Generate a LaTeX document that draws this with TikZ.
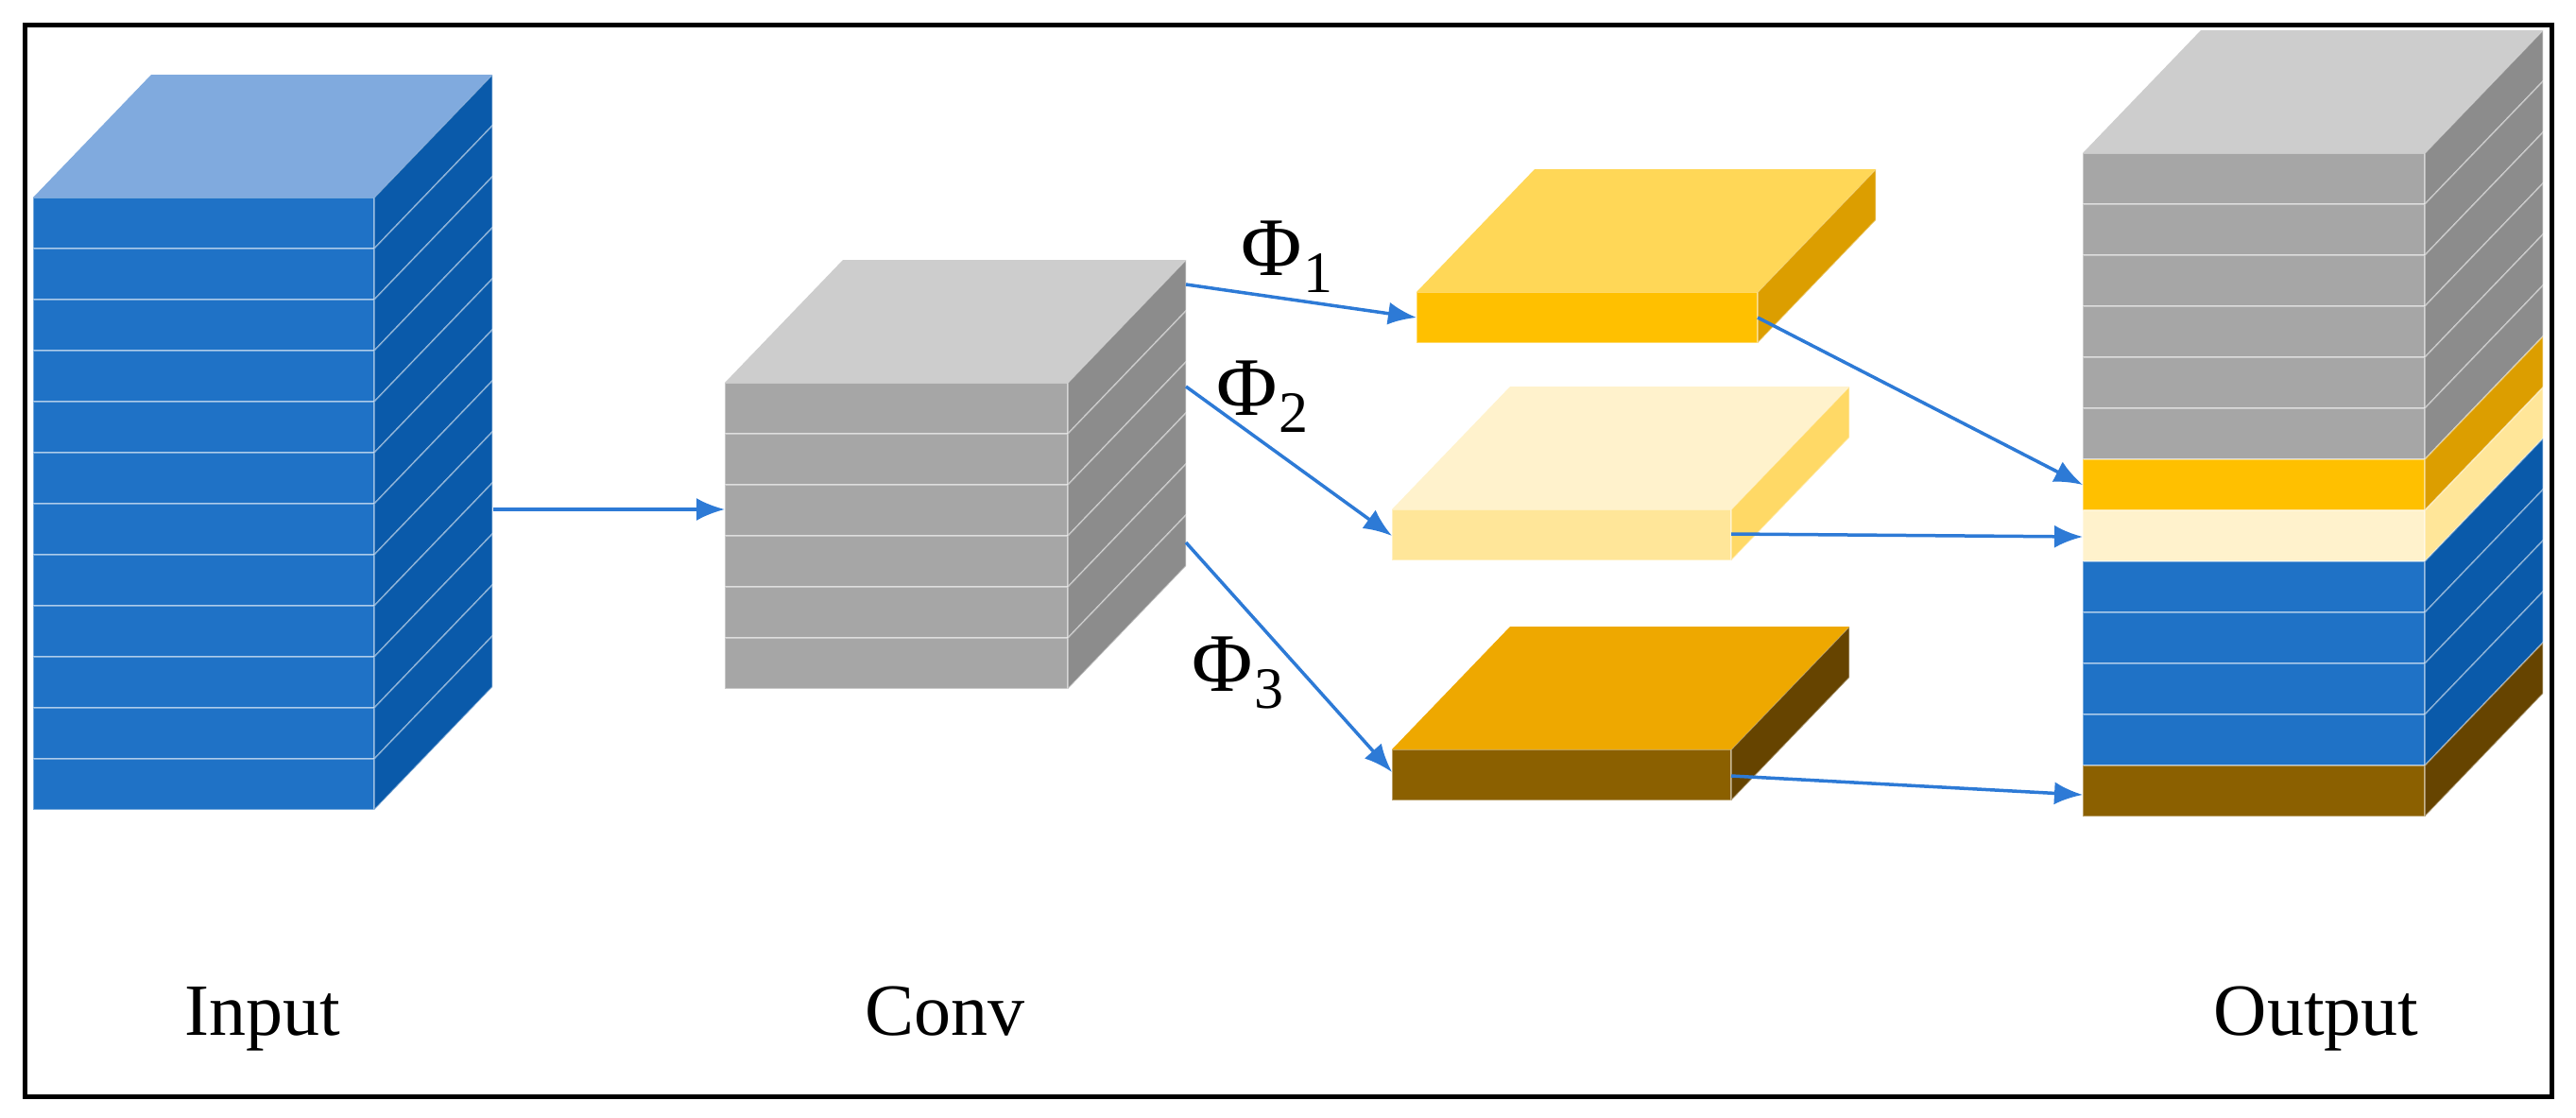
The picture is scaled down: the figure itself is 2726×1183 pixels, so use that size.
\documentclass[tikz,border=0pt]{standalone}
\usepackage{fontspec}
\setmainfont{Liberation Serif}
\usetikzlibrary{arrows.meta}
\definecolor{bF}{HTML}{1F72C6}\definecolor{bS}{HTML}{0A5AAA}\definecolor{bT}{HTML}{80AADE}
\definecolor{gF}{HTML}{A6A6A6}\definecolor{gS}{HTML}{8C8C8C}\definecolor{gT}{HTML}{CDCDCD}
\definecolor{yF}{HTML}{FFC000}\definecolor{yS}{HTML}{DC9E00}\definecolor{yT}{HTML}{FFD757}
\definecolor{lF}{HTML}{FFE699}\definecolor{lS}{HTML}{FFD966}\definecolor{lT}{HTML}{FFF2CC}
\definecolor{nF}{HTML}{8B6000}\definecolor{nS}{HTML}{664400}\definecolor{nT}{HTML}{EEA800}
\definecolor{arr}{HTML}{2D7AD6}
\newcommand\mystack[7]{%
 \foreach \i in {1,...,#5}{%
  \pgfmathsetmacro\yy{#2+(\i-1)*#4}
  \filldraw[fill=#6,sep] (#1,\yy) rectangle ++(#3,#4);
  \filldraw[fill=#7,sep] (#1+#3,\yy) -- ++(125,-130) -- ++(0,#4) -- ++(-125,130) -- cycle;}}
\newcommand\mytop[4]{\fill[#4] (#1,#2) -- ++(125,-130) -- ++(#3,0) -- ++(-125,130) -- cycle;}
\newcommand\phisub[1]{Φ\kern2pt\raisebox{-18pt}{\fontsize{62}{70}\selectfont #1}}
\begin{document}
\begin{tikzpicture}[x=1pt,y=-1pt,
 sep/.style={draw=white,draw opacity=.4,line width=1.5pt},
 conn/.style={draw=arr,line width=3.5pt,-{Latex[length=30pt,width=24pt]}},
 lab/.style={font=\fontsize{78}{90}\selectfont,inner sep=0pt,anchor=base},
 phi/.style={font=\fontsize{88}{100}\selectfont,inner sep=0pt}]
\useasboundingbox (0,0) rectangle (2726,1183);
\draw[line width=5pt] (26,26) rectangle (2700,1160);
% input
\mystack{35}{209}{361}{54}{12}{bF}{bS}
\mytop{35}{209}{361}{bT}
% conv
\mystack{767}{405}{363}{54}{6}{gF}{gS}
\mytop{767}{405}{363}{gT}
% slabs
\mystack{1499}{309}{361}{54}{1}{yF}{yS}\mytop{1499}{309}{361}{yT}
\mystack{1473}{539}{359}{54}{1}{lF}{lS}\mytop{1473}{539}{359}{lT}
\mystack{1473}{793}{359}{54}{1}{nF}{nS}\mytop{1473}{793}{359}{nT}
% output
\mystack{2204}{162}{362}{54}{6}{gF}{gS}
\mystack{2204}{486}{362}{54}{1}{yF}{yS}
\mystack{2204}{540}{362}{54}{1}{lT}{lF}
\mystack{2204}{594}{362}{54}{4}{bF}{bS}
\mystack{2204}{810}{362}{54}{1}{nF}{nS}
\mytop{2204}{162}{362}{gT}
% connector endpoints
\coordinate (inR) at (522,539);
\coordinate (convL) at (767,539);
\coordinate (c1) at (1255,301); \coordinate (c2) at (1255,409); \coordinate (c3) at (1255,574);
\coordinate (s1L) at (1499,336); \coordinate (s2L) at (1473,567); \coordinate (s3L) at (1473,817);
\coordinate (s1R) at (1860,336); \coordinate (s2R) at (1832,565); \coordinate (s3R) at (1832,821);
\coordinate (o1) at (2204,513); \coordinate (o2) at (2204,568); \coordinate (o3) at (2204,841);
\draw[conn] (inR) -- (convL);
\draw[conn] (c1) -- (s1L);
\draw[conn] (c2) -- (s2L);
\draw[conn] (c3) -- (s3L);
\draw[conn] (s1R) -- (o1);
\draw[conn] (s2R) -- (o2);
\draw[conn] (s3R) -- (o3);
\node[phi] (p1) at (1362,272) {\phisub{1}};
\node[phi] (p2) at (1336,420) {\phisub{2}};
\node[phi] (p3) at (1310,712) {\phisub{3}};
\node[lab] (tin) at (278,1095) {Input};
\node[lab] (tconv) at (1000,1095) {Conv};
\node[lab] (tout) at (2451,1095) {Output};
\end{tikzpicture}
\end{document}
